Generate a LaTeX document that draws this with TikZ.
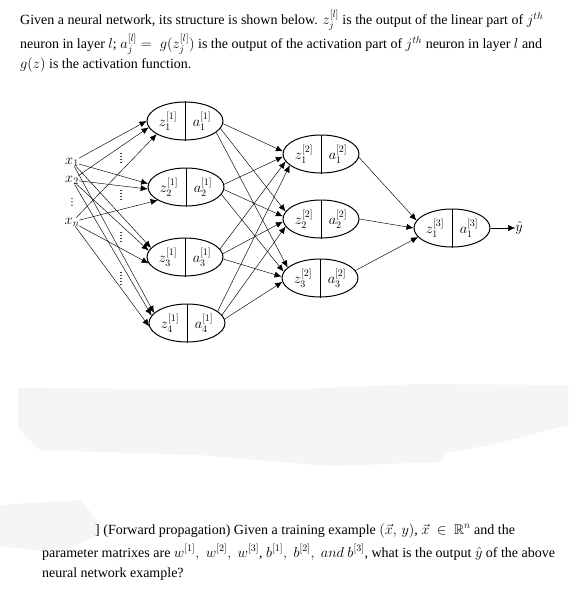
\documentclass[tikz,border=0pt]{standalone}
\usepackage{amssymb}
\usepackage{fontspec}
\setmainfont{Liberation Serif}
\newfontfamily\djv{DejaVu Sans}
\usetikzlibrary{arrows.meta,shapes.geometric}
\newcommand\mkneuron[5]{%
  \node[neuron] (#1) at (#2,#3) {};
  \draw[divider] (#1.north) -- (#1.south);
  \node[lbl] (#1z) at (#2-17,#3) {$#4$};
  \node[lbl] (#1a) at (#2+17,#3) {$#5$};
}
\tikzset{
  neuron/.style={ellipse, draw, line width=1pt, minimum width=76pt, minimum height=38pt, inner sep=0pt},
  divider/.style={line width=0.8pt},
  lbl/.style={inner sep=0pt, font=\fontsize{14}{16}\selectfont},
  conn/.style={-{Latex[length=7pt,width=6pt]}, line width=0.45pt},
  txt/.style={anchor=base west, inner sep=0pt, font=\fontsize{14}{16}\selectfont},
  omitline/.style={dotted, line width=1.1pt, draw=black!75},
  scribble/.style={fill=black!4, draw=none}
}
\begin{document}
\begin{tikzpicture}[x=1pt,y=-1pt]
\useasboundingbox[fill=white] (0,0) rectangle (580,599);

% scribbled-over areas
\path[scribble] (18,388) -- (18,428) -- (40,450) -- (200,455) -- (330,466) -- (440,462) -- (448,452) -- (490,445) -- (568,425) -- (568,385) -- (420,384) -- (280,390) -- cycle;
\path[scribble] (0,505) -- (80,500) -- (97,520) -- (96,536) -- (60,553) -- (0,546) -- cycle;

% text
\node[txt] (t1) at (20,25) {Given a neural network, its structure is shown below. $z_j^{[l]}$ is the output of the linear part of $j^{th}$};
\node[txt] (t2) at (20,49) {neuron in layer $l$; $a_j^{[l]} =\; g(z_j^{[l]})$ is the output of the activation part of $j^{th}$ neuron in layer $l$ and};
\node[txt] (t3) at (20,69) {$g(z)$ is the activation function.};

% inputs
\node[lbl] (x1) at (72,162) {$x_1$};
\node[lbl] (x2) at (72,180) {$x_2$};
\node[lbl, font=\djv\fontsize{10}{10}\selectfont] (xd) at (72,202) {⋮};
\node[lbl] (xn) at (72,222) {$x_n$};

% layer 1
\mkneuron{h1}{185}{121}{z_1^{[1]}}{a_1^{[1]}}
\mkneuron{h2}{186}{187}{z_2^{[1]}}{a_2^{[1]}}
\mkneuron{h3}{185}{257}{z_3^{[1]}}{a_3^{[1]}}
\mkneuron{h4}{187}{323}{z_4^{[1]}}{a_4^{[1]}}
% layer 2
\mkneuron{m1}{321}{154}{z_1^{[2]}}{a_1^{[2]}}
\mkneuron{m2}{321}{219}{z_2^{[2]}}{a_2^{[2]}}
\mkneuron{m3}{320}{278}{z_3^{[2]}}{a_3^{[2]}}
% layer 3
\mkneuron{o1}{452}{228}{z_1^{[3]}}{a_1^{[3]}}
\node[lbl] (yh) at (519,228) {$\hat{y}$};

% input connections
\draw[conn] (x1) -- (h1.180);
\draw[conn] (x2) -- (h1.190);
\draw[conn] (xn) -- (h1.205);
\draw[conn] (x1) -- (h2.175);
\draw[conn] (x2) -- (h2.183);
\draw[conn] (xn) -- (h2.205);
\draw[conn] (x1) -- (h3.165);
\draw[conn] (x2) -- (h3.170);
\draw[conn] (xn) -- (h3.190);
\draw[conn] (x1) -- (h4.163);
\draw[conn] (x2) -- (h4.168);
\draw[conn] (xn) -- (h4.185);

% omitted inputs
\draw[omitline] (121,153) -- (121,165);
\draw[omitline] (121,190) -- (121,202);
\draw[omitline] (121,232) -- (121,243);
\draw[omitline] (121,272) -- (121,285);

% layer 1 -> layer 2
\draw[conn] (h1.-4)  -- (m1.176);
\draw[conn] (h1.-12) -- (m2.168);
\draw[conn] (h1.-20) -- (m3.162);
\draw[conn] (h2.4)   -- (m1.184);
\draw[conn] (h2.-4)  -- (m2.176);
\draw[conn] (h2.-12) -- (m3.170);
\draw[conn] (h3.13)  -- (m1.192);
\draw[conn] (h3.5)   -- (m2.184);
\draw[conn] (h3.-3)  -- (m3.178);
\draw[conn] (h4.21)  -- (m1.200);
\draw[conn] (h4.13)  -- (m2.192);
\draw[conn] (h4.6)   -- (m3.186);

% layer 2 -> layer 3
\draw[conn] (m1.-5) -- (o1.168);
\draw[conn] (m2.0)  -- (o1.180);
\draw[conn] (m3.12) -- (o1.195);
\draw[conn] (o1.east) -- (yh.west);

% bottom text
\node[txt] (b1) at (95,534) {] (Forward propagation) Given a training example $(\vec{x},\, y)$, $\vec{x}\ \in\ \mathbb{R}^n$ and the};
\node[txt] (b2) at (42,557) {parameter matrixes are $w^{[1]},\; w^{[2]},\; w^{[3]}$, $b^{[1]},\; b^{[2]},\; and\ b^{[3]}$, what is the output $\hat{y}$ of the above};
\node[txt] (b3) at (42,577) {neural network example?};
\end{tikzpicture}
\end{document}
